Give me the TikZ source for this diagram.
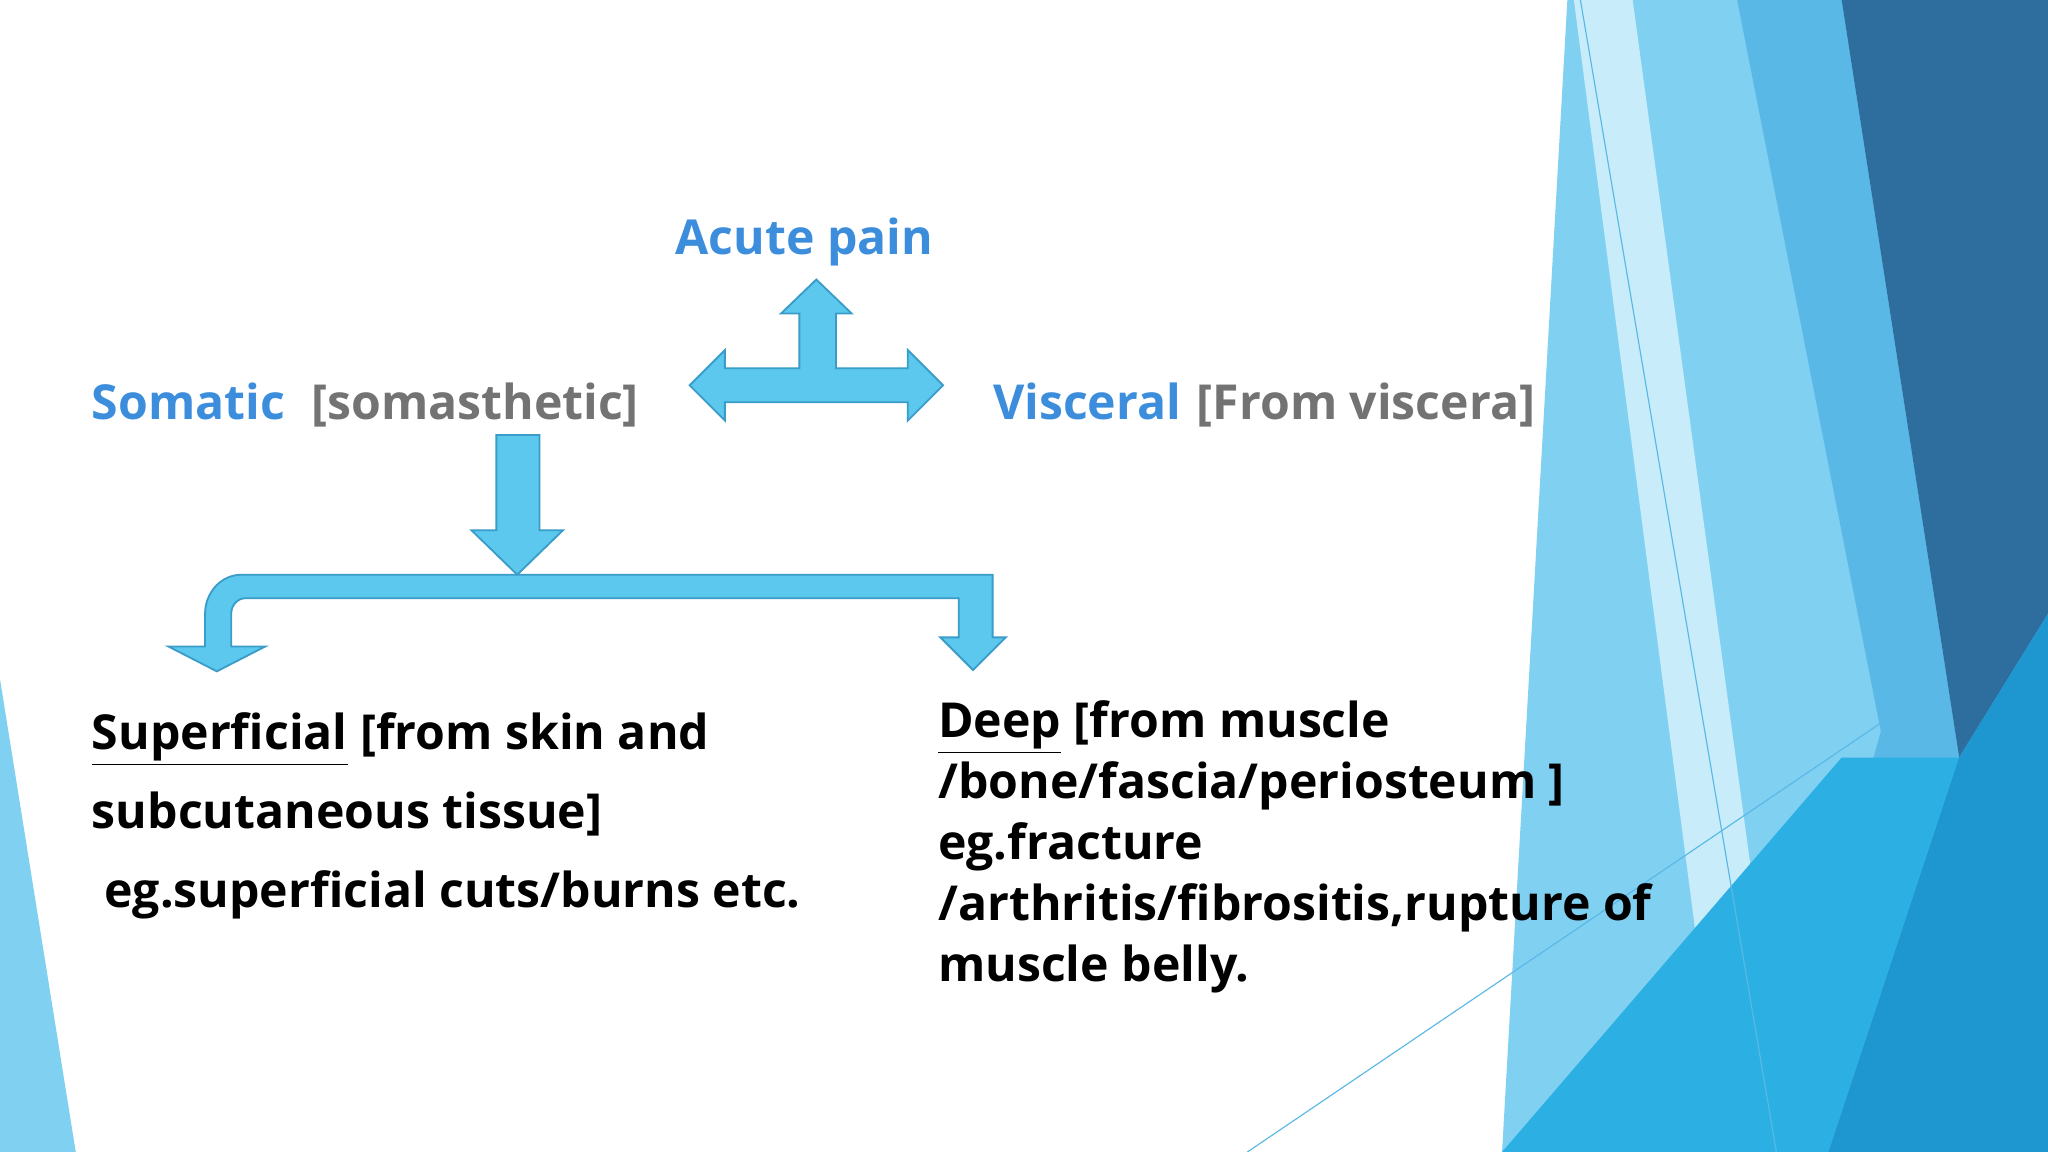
\documentclass[tikz,border=0pt]{standalone}
\usepackage{fontspec}
\setmainfont{Open Sans}
\begin{document}
\begin{tikzpicture}[x=0.02cm,y=-0.02cm,
 arr/.style={fill=arrfill,draw=arrline,line width=0.8pt,line join=miter},
 blk/.style={anchor=base west,inner sep=0,font=\fontsize{21}{26.6}\selectfont\bfseries,text=black},
 gr/.style={anchor=base west,inner sep=0,font=\fontsize{21}{27}\selectfont\bfseries,text=gray!90!black},
 ttl/.style={anchor=base west,inner sep=0,font=\fontsize{21}{27}\selectfont\bfseries,text=tblue}]
\definecolor{arrfill}{HTML}{5CC8EE}\definecolor{arrline}{HTML}{3A9CC8}
\definecolor{tblue}{HTML}{3C8EDC}
\definecolor{b1}{HTML}{80D0F2}\definecolor{b2}{HTML}{C8ECFA}\definecolor{b3}{HTML}{5AB8E6}
\definecolor{b4}{HTML}{2E6E9E}\definecolor{b5}{HTML}{2CB0E4}\definecolor{b6}{HTML}{1E96D0}
\useasboundingbox (0,0) rectangle (1568,882);
% background
\fill[white] (0,0) rectangle (1568,882);
\fill[b1] (1200,0)--(1568,0)--(1568,882)--(1150,882)--cycle;
\fill[b2] (1205,0)--(1250,0)--(1370,882)--(1320,882)--cycle;
\fill[b3] (1330,0)--(1410,0)--(1500,580)--(1400,882)--(1350,882)--(1440,560)--cycle;
\fill[b4] (1410,0)--(1568,0)--(1568,470)--(1500,580)--cycle;
\fill[b5] (1150,882)--(1410,580)--(1500,580)--(1568,470)--(1568,882)--cycle;
\fill[b6] (1400,882)--(1500,580)--(1568,470)--(1568,882)--cycle;
\fill[b1] (0,520)--(0,882)--(58,882)--cycle;
\draw[b3,line width=0.5pt] (1210,0)--(1360,882);
\draw[b3,line width=0.5pt] (955,882)--(1460,540);
% arrows
\draw[arr] (528,295)--(555,268)--(555,282)--(612,282)--(612,240)--(598,240)--(625,214)--(652,240)--(640,240)--(640,282)--(695,282)--(695,268)--(722,295)--(695,322)--(695,308)--(555,308)--(555,322)--cycle;
\draw[arr] (380,333)--(413,333)--(413,406)--(431,406)--(396,440)--(361,406)--(380,406)--cycle;
\draw[arr] (185,440)--(760,440)--(760,488)--(770,488)--(745,513)--(720,488)--(734,488)--(734,458)--(188,458) to[out=180,in=90] (177,470)--(177,495)--(203,495)--(166,514)--(129,495)--(157,495)--(157,470) to[out=90,in=180] (185,440)--cycle;
% texts
\node (acute) [ttl] at (517,195) {Acute pain};
\node (som) [ttl] at (70,321) {Somatic};
\node (soma) [gr] at (238,321) {[somasthetic]};
\node (vis) [ttl] at (760,321) {Visceral};
\node (visc) [gr] at (916,321) {[From viscera]};
\node (sup) [blk,align=left,anchor=north west] at (70,545) {\underline{Superficial} [from skin and\\[8pt]subcutaneous tissue]\\[8pt]\ eg.superficial cuts/burns etc.};
\node (deep) [blk,align=left,anchor=north west] at (718,536) {\underline{Deep} [from muscle\\/bone/fascia/periosteum ]\\eg.fracture\\/arthritis/fibrositis,rupture of\\muscle belly.};
\end{tikzpicture}
\end{document}
